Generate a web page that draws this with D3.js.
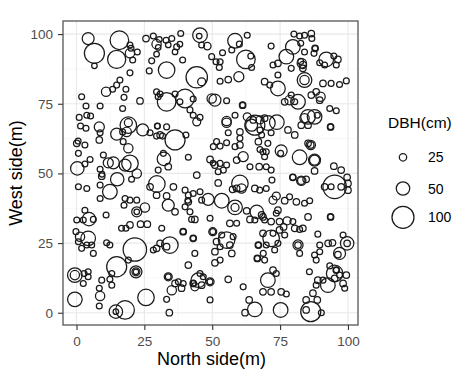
<!DOCTYPE html>
<html><head><meta charset="utf-8">
<script src="https://cdn.jsdelivr.net/npm/d3@7"></script>
<style>body{margin:0;background:#fff}svg{display:block}text{font-family:"Liberation Sans",Arial,sans-serif}</style>
</head><body><div id="chart"></div>
<script>
// x = North side (m), y = West side (m), DBH (cm)
const trees = [
[4.3,98.4,43],[6.6,93.1,87],[6.6,88.6,19],[15.8,97.8,78],[14.8,90.9,75],[19.7,93.1,32],[20.1,94.9,20],[22.4,93.6,20],[19.7,96.1,20],[20.7,90.7,20],[19.7,86.1,20],[26.8,86.8,20],[25.6,98.4,22],[28.3,99.3,20],[29.5,96.4,32],[30.5,98.1,19],[30.1,95.2,19],[29.5,92.8,19],[27.7,90.4,20],[16.0,83.5,20],[14.8,81.7,20],[13.3,80.2,20],[10.9,79.3,32],[18.2,80.2,20],[17.5,77.3,20],[23.4,76.0,22],[17.0,73.3,20],[1.9,77.5,20],[3.5,74.2,20],[8.7,74.2,20],[1.0,70.1,20],[3.8,70.9,20],[5.2,70.6,20],[29.5,79.3,20],[30.8,78.5,20],[30.1,77.5,20],
[33.0,97.8,20],[35.1,98.4,20],[33.8,96.1,19],[36.9,95.4,20],[36.3,93.6,19],[38.4,100.2,20],[38.1,96.4,19],[45.5,99.6,56],[45.2,99.3,19],[46.1,96.1,20],[48.2,95.7,25],[58.4,97.6,56],[60.0,96.4,20],[57.2,94.3,20],[62.9,99.6,20],[53.8,93.3,20],[62.4,90.9,78],[64.2,92.1,20],[64.5,88.0,20],[33.2,87.1,66],[39.1,90.7,20],[49.8,91.9,20],[51.4,90.1,20],[52.9,90.1,20],[52.6,88.0,20],[44.3,84.5,96],[46.1,82.9,27],[52.9,83.1,20],[55.9,83.7,22],[59.8,84.7,35],[33.2,75.7,78],[40.0,76.9,78],[36.3,78.5,20],[38.1,75.7,20],[43.0,76.7,20],[49.8,76.9,32],[51.0,76.3,43],[55.3,76.1,20],[61.2,74.5,22],[61.2,74.5,19],[41.8,72.8,20],[43.0,70.9,20],[45.5,70.1,20],[55.3,68.8,32],[58.4,70.9,20],[62.9,70.3,27],[65.1,69.2,22],[67.6,69.2,27],
[71.7,95.7,20],[80.1,100.0,20],[82.2,99.3,20],[84.0,99.6,20],[86.5,100.2,22],[86.7,98.4,20],[79.7,95.4,56],[82.6,96.7,20],[84.0,93.6,20],[77.3,91.9,56],[87.9,94.9,22],[87.9,94.9,19],[87.5,93.1,20],[92.0,90.9,56],[94.8,92.1,20],[96.3,90.9,22],[95.7,88.9,20],[91.4,88.9,20],[89.6,89.7,20],[74.2,89.5,22],[72.4,88.9,20],[83.0,89.5,32],[83.4,87.7,22],[82.6,90.2,20],[83.4,88.9,25],[79.1,87.7,20],[74.2,85.3,20],[84.0,83.5,56],[84.0,83.5,32],[69.3,82.9,22],[71.2,81.7,20],[74.2,80.5,56],[90.8,82.3,22],[93.8,82.3,20],[96.9,81.9,20],[99.4,83.2,20],[88.3,79.3,22],[86.5,78.1,22],[89.9,77.5,32],[89.6,76.3,22],[79.1,78.1,20],[78.5,76.3,32],[76.7,75.7,22],[80.4,75.7,20],[81.6,75.7,56],[93.3,73.3,20],[95.7,72.5,20],[85.3,70.3,56],[84.0,69.8,32],[87.7,70.3,56],[88.7,70.9,20],[69.3,69.8,22],
[1.5,67.0,20],[3.5,66.2,20],[8.4,66.7,35],[8.7,64.6,20],[8.4,62.0,22],[0.1,60.8,22],[0.6,61.6,20],[3.1,60.2,20],[14.8,64.1,43],[17.0,64.9,20],[17.2,61.4,20],[19.1,67.3,66],[19.1,68.2,27],[18.5,64.9,32],[24.4,65.6,43],[27.1,64.6,20],[29.8,67.0,20],[29.8,67.0,19],[29.5,63.4,20],[30.8,63.8,22],[19.1,59.0,32],[0.7,57.2,20],[9.9,56.6,20],[0.3,51.8,50],[3.1,53.4,20],[5.0,55.0,20],[11.7,53.8,35],[13.6,53.8,43],[19.7,53.6,66],[17.9,53.0,43],[8.7,51.5,20],[9.3,49.0,22],[9.4,49.7,19],[15.0,47.9,50],[22.2,50.0,32],[20.3,47.9,20],[30.1,51.2,20],[0.7,45.2,20],[3.8,44.6,20],[8.7,45.8,20],[12.3,43.4,56],[8.7,41.0,20],[17.9,41.0,20],[19.7,40.4,20],[22.2,40.4,20],[17.5,38.6,20],[27.1,45.2,22],[29.5,42.2,22],[22.2,36.2,35],[22.2,36.2,19],[25.2,37.8,32],[10.9,35.1,20],[3.1,36.8,20],[0.1,33.3,20],[2.5,33.3,20],[4.6,33.6,50],[6.2,33.5,20],
[33.2,66.7,20],[44.3,68.5,27],[36.3,62.0,87],[40.3,63.8,20],[31.7,63.4,20],[55.3,68.2,32],[55.9,64.6,20],[60.2,64.9,22],[60.2,62.6,20],[65.7,67.3,87],[64.5,67.3,43],[67.6,65.6,20],[68.2,63.8,20],[51.6,61.4,20],[50.4,59.6,20],[52.9,59.8,20],[55.3,61.0,20],[58.4,59.6,20],[60.2,60.2,22],[67.0,61.4,22],[67.6,58.6,20],[49.2,55.0,22],[51.0,53.0,22],[50.3,53.7,19],[52.9,53.6,20],[54.1,51.2,20],[52.2,50.6,20],[55.3,53.0,20],[61.4,56.0,35],[59.0,54.8,22],[63.9,52.4,20],[67.3,52.4,22],[41.2,55.8,20],[32.2,55.2,50],[32.0,57.2,20],[33.8,52.4,22],[29.6,46.2,66],[35.7,45.2,22],[44.3,49.4,22],[52.2,46.6,22],[60.2,46.4,66],[59.0,44.6,22],[60.8,44.6,32],[57.5,44.3,22],[65.7,44.6,22],[40.0,44.0,20],[41.2,42.2,20],[43.0,42.8,20],[45.5,43.4,20],[46.1,40.4,20],[48.5,40.7,43],[53.5,40.2,56],[33.2,41.9,22],[33.8,38.6,43],[36.3,36.2,22],[41.2,39.8,22],[41.0,40.3,19],[40.0,38.0,20],[41.8,36.2,20],[58.4,37.8,56],[58.4,37.8,27],[62.7,36.6,22],[66.4,36.2,50],[68.2,35.1,22],[43.6,33.5,22],[42.4,33.5,20],[49.2,33.9,20],[56.5,32.1,22],[59.0,32.1,20],[63.9,33.5,22],[65.7,33.3,20],
[70.5,68.1,56],[73.8,68.4,56],[71.7,64.6,20],[77.9,65.6,22],[80.4,63.8,22],[82.8,67.3,22],[85.3,67.3,22],[93.6,66.7,22],[93.6,66.7,19],[70.5,60.8,20],[68.7,57.8,20],[69.9,57.8,20],[69.3,56.0,20],[75.4,58.1,43],[75.2,57.2,20],[82.2,55.8,56],[86.3,60.2,32],[86.3,60.2,22],[85.3,60.8,22],[87.7,54.8,43],[87.7,54.8,35],[87.7,50.9,22],[69.9,52.4,20],[71.7,51.2,20],[94.8,52.6,22],[97.5,51.2,22],[72.0,47.6,20],[67.5,44.0,20],[69.9,44.6,20],[79.7,48.6,22],[79.7,48.6,20],[82.8,47.4,32],[82.8,47.4,25],[84.6,47.9,22],[95.1,45.2,110],[91.4,45.2,22],[93.8,45.2,20],[97.5,45.2,22],[99.7,48.6,22],[100.0,46.4,22],[100.0,44.0,22],[73.6,41.9,27],[72.4,40.4,27],[76.7,40.2,22],[78.5,41.6,20],[81.0,39.8,22],[84.0,39.3,20],[85.9,40.2,20],[74.2,36.8,22],[73.6,35.7,20],[68.7,34.4,22],[69.3,33.3,20],[77.6,33.0,27],[74.8,32.7,22],[79.7,32.7,20],[85.3,34.4,22],[93.6,34.4,22],[93.6,34.4,19],
[16.6,30.3,20],[18.2,30.3,20],[19.7,31.5,22],[23.6,31.8,22],[26.1,31.8,22],[-0.2,29.1,20],[1.3,27.3,32],[4.3,26.7,56],[0.7,25.5,20],[1.9,23.1,20],[3.8,24.3,20],[5.6,24.3,20],[6.2,21.3,20],[11.1,25.1,20],[12.3,24.3,20],[21.5,22.7,110],[19.1,18.9,20],[14.8,16.5,87],[13.0,14.1,20],[12.3,12.0,20],[13.0,9.9,20],[21.9,14.7,43],[21.9,14.7,27],[21.9,14.7,19],[-0.6,13.5,56],[-0.6,13.5,32],[2.8,14.1,20],[4.3,14.7,20],[4.3,12.9,20],[2.5,10.5,20],[9.3,11.7,20],[8.4,8.8,20],[8.7,6.0,32],[8.4,2.4,20],[-0.6,4.8,56],[25.6,5.5,66],[17.9,1.0,78],[14.5,0.4,50],[14.5,0.4,19],[29.5,23.1,22],[30.8,24.9,22],[28.3,22.5,20],[31.4,30.3,20],
[34.4,24.3,66],[33.2,23.7,22],[39.3,29.1,22],[39.3,29.1,19],[43.0,26.7,22],[43.0,26.7,19],[43.6,21.3,20],[41.2,17.1,22],[50.2,29.1,27],[50.2,29.1,20],[55.3,26.1,66],[51.6,25.5,22],[53.5,27.9,20],[52.9,23.7,20],[56.5,24.3,22],[57.7,27.3,20],[51.0,21.9,22],[57.2,21.3,22],[51.0,17.9,22],[52.9,18.9,20],[67.0,24.3,22],[67.0,24.3,19],[66.6,19.5,22],[66.6,19.5,19],[68.8,21.3,20],[33.8,12.9,27],[33.8,12.9,20],[36.3,10.5,22],[37.5,11.1,20],[39.3,10.5,20],[38.7,8.8,22],[35.1,8.1,32],[33.2,4.8,20],[34.2,0.0,22],[44.9,11.7,56],[43.0,10.5,22],[43.0,10.5,19],[45.5,14.1,20],[46.7,12.9,20],[43.6,9.3,27],[49.2,11.1,27],[49.2,11.1,20],[46.1,9.9,22],[55.9,12.0,22],[61.4,9.3,20],[49.2,4.6,20],[63.6,4.6,22],[65.7,1.2,56],[62.1,0.0,22],
[71.7,32.7,22],[76.3,30.8,22],[80.4,30.3,22],[82.2,29.9,20],[83.4,30.3,22],[71.7,26.7,66],[68.7,28.5,22],[72.4,28.5,20],[74.8,29.7,22],[69.9,24.3,20],[74.2,24.9,20],[73.0,22.5,20],[76.7,27.9,20],[69.3,18.9,20],[81.6,24.3,35],[81.6,24.3,22],[82.2,21.3,20],[88.9,28.2,20],[89.6,24.3,20],[89.6,21.9,20],[88.3,18.9,20],[87.7,20.7,20],[92.7,24.9,22],[94.3,25.1,22],[96.9,21.3,43],[96.3,20.9,22],[98.2,27.9,20],[99.7,24.9,50],[99.7,24.9,22],[85.8,14.7,20],[95.1,14.1,66],[92.6,9.9,56],[95.7,15.3,22],[95.7,15.3,19],[95.1,12.3,22],[96.9,13.5,20],[99.4,13.5,22],[98.2,10.5,22],[98.8,8.8,20],[88.9,11.7,22],[90.8,11.7,20],[88.3,9.9,20],[93.3,16.8,20],[70.5,11.7,56],[72.4,15.3,22],[73.6,14.1,20],[68.7,7.5,22],[71.7,7.5,22],[75.4,7.5,22],[77.3,6.7,20],[87.1,7.0,22],[84.6,4.6,22],[88.7,4.6,22],[75.2,1.0,56],[86.3,0.4,87],[84.6,1.0,22],[90.2,0.0,20]
];
const xTicks = [0, 25, 50, 75, 100];
const yTicks = [0, 25, 50, 75, 100];
const minorTicks = [12.5, 37.5, 62.5, 87.5];
const legendBreaks = [25, 50, 100];
const xTitle = "North side(m)";
const yTitle = "West side(m)";
const legendTitle = "DBH(cm)";

const W = 474, H = 388;
const panel = {left: 63, right: 358, top: 21, bottom: 325};
const svg = d3.select("#chart").append("svg").attr("width", W).attr("height", H);

const x = d3.scaleLinear().domain([-4.97, 103.7]).range([panel.left, panel.right]);
const y = d3.scaleLinear().domain([-4.4, 104.7]).range([panel.bottom, panel.top]);
const r = d3.scaleSqrt().domain([25, 100]).range([3.7, 11]);

svg.append("rect").attr("x", panel.left).attr("y", panel.top)
  .attr("width", panel.right - panel.left).attr("height", panel.bottom - panel.top).attr("fill", "#fff");

const grid = svg.append("g");
minorTicks.forEach(v => {
  grid.append("line").attr("x1", x(v)).attr("x2", x(v)).attr("y1", panel.top).attr("y2", panel.bottom).attr("stroke", "#f3f3f3").attr("stroke-width", 0.6);
  grid.append("line").attr("y1", y(v)).attr("y2", y(v)).attr("x1", panel.left).attr("x2", panel.right).attr("stroke", "#f3f3f3").attr("stroke-width", 0.6);
});
xTicks.forEach(v => grid.append("line").attr("x1", x(v)).attr("x2", x(v)).attr("y1", panel.top).attr("y2", panel.bottom).attr("stroke", "#e8e8e8").attr("stroke-width", 1.1));
yTicks.forEach(v => grid.append("line").attr("y1", y(v)).attr("y2", y(v)).attr("x1", panel.left).attr("x2", panel.right).attr("stroke", "#e8e8e8").attr("stroke-width", 1.1));

svg.append("clipPath").attr("id", "clip").append("rect")
  .attr("x", panel.left).attr("y", panel.top).attr("width", panel.right - panel.left).attr("height", panel.bottom - panel.top);

svg.append("g").attr("clip-path", "url(#clip)").selectAll("circle").data(trees).join("circle")
  .attr("cx", d => x(d[0])).attr("cy", d => y(d[1])).attr("r", d => r(d[2]))
  .attr("fill", "none").attr("stroke", "#1a1a1a").attr("stroke-width", 1.25);

svg.append("rect").attr("x", panel.left).attr("y", panel.top)
  .attr("width", panel.right - panel.left).attr("height", panel.bottom - panel.top)
  .attr("fill", "none").attr("stroke", "#555").attr("stroke-width", 1.3);

const xAxis = svg.append("g").attr("transform", `translate(0,${panel.bottom})`)
  .call(d3.axisBottom(x).tickValues(xTicks).tickSize(5).tickPadding(6));
const yAxis = svg.append("g").attr("transform", `translate(${panel.left},0)`)
  .call(d3.axisLeft(y).tickValues(yTicks).tickSize(5).tickPadding(5));
[xAxis, yAxis].forEach(a => {
  a.select(".domain").remove();
  a.selectAll(".tick line").attr("stroke", "#333").attr("stroke-width", 1.1);
  a.selectAll(".tick text").attr("fill", "#4d4d4d").style("font-size", "13.5px").style("font-family", '"Liberation Sans",Arial,sans-serif');
});

svg.append("text").attr("x", (panel.left + panel.right) / 2 + 1).attr("y", 365)
  .attr("text-anchor", "middle").style("font-size", "18px").attr("fill", "#000").text(xTitle);
svg.append("text").attr("transform", `translate(22,${(panel.top + panel.bottom) / 2}) rotate(-90)`)
  .attr("text-anchor", "middle").style("font-size", "18px").attr("fill", "#000").text(yTitle);

const leg = svg.append("g");
leg.append("text").attr("x", 388).attr("y", 128).style("font-size", "15.5px").attr("fill", "#000").text(legendTitle);
const legY = [157.3, 188.5, 217.3];
legendBreaks.forEach((b, i) => {
  leg.append("circle").attr("cx", 403).attr("cy", legY[i]).attr("r", r(b))
    .attr("fill", "none").attr("stroke", "#1a1a1a").attr("stroke-width", 1.25);
  leg.append("text").attr("x", 428).attr("y", legY[i] + 5).style("font-size", "14px").attr("fill", "#000").text(b);
});
</script></body></html>
